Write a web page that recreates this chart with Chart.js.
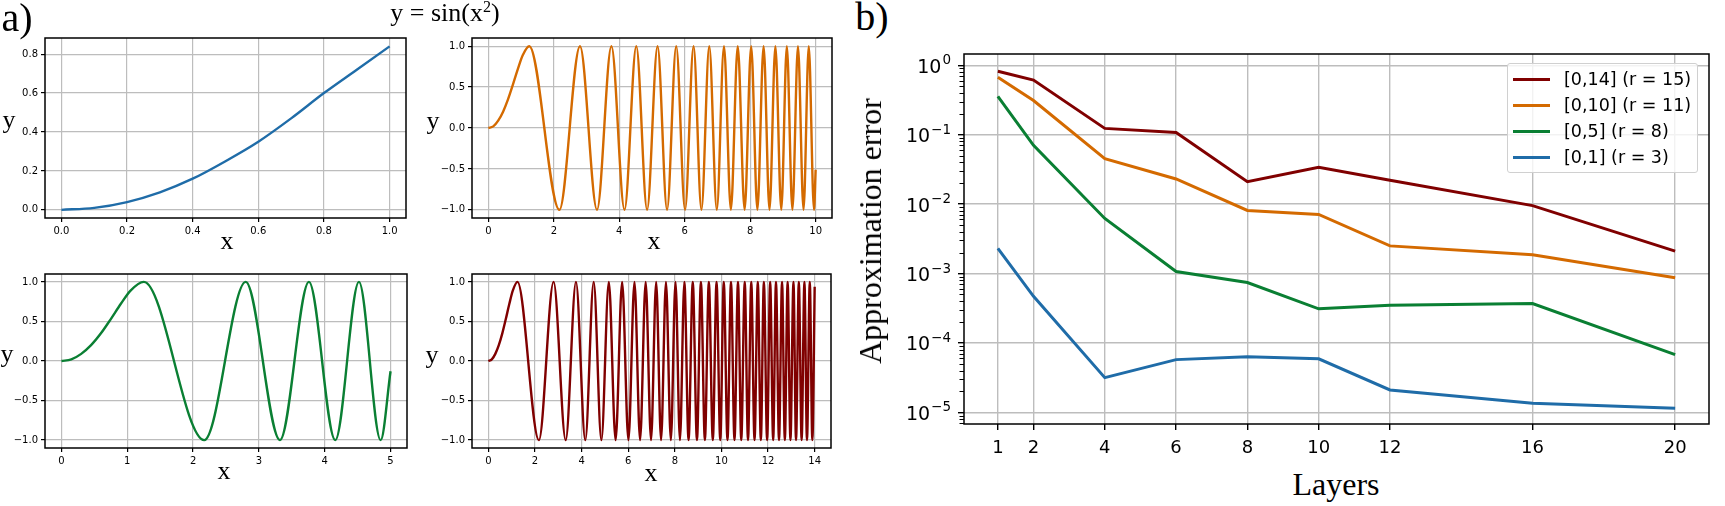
<!DOCTYPE html>
<html lang="en">
<head>
<meta charset="UTF-8">
<title>sin(x^2) and approximation error</title>
<script src="https://cdn.jsdelivr.net/npm/chart.js"></script>
<style>
  body { margin: 0; width: 1725px; height: 506px; background: #fff; position: relative; overflow: hidden; }
  .lbl { position: absolute; font-family: "Liberation Serif", serif; color: #000; line-height: 1; white-space: nowrap; }
  .lbl sup { font-size: 0.62em; vertical-align: 0.55em; line-height: 0; }
  .legend { position: absolute; left: 1507px; top: 63px; width: 191px; height: 110px; box-sizing: border-box;
            background: rgba(255,255,255,0.8); border: 1px solid #d0d0d0; border-radius: 3px; padding-top: 2px;
            font-family: "DejaVu Sans", sans-serif; font-size: 17.5px; }
  .legend .row { display: flex; align-items: center; height: 26px; }
  .legend .swatch { width: 37px; height: 3px; margin-left: 5px; margin-right: 14px; }
</style>
</head>
<body>

<script>
// ---- panel a): y = sin(x^2), knots ----
const rampX = [0, 0.15, 0.3, 0.45, 0.6, 0.75, 0.9, 1.05];
const rampY = [0, 0.02, 0.09, 0.2, 0.35, 0.53, 0.72, 0.89];

// the [0,1] curve
const unitX = [0, 0.1, 0.2, 0.3, 0.4, 0.5, 0.6, 0.7, 0.8, 0.9, 1.0];
const unitY = [0, 0.01, 0.04, 0.09, 0.16, 0.25, 0.35, 0.47, 0.6, 0.72, 0.84];

// turning points (peaks / troughs) of the oscillating curves
const turnX = [1.25, 2.17, 2.80, 3.32, 3.76, 4.16, 4.52, 4.85, 5.17, 5.46,
               5.74, 6.01, 6.27, 6.51, 6.75, 6.98, 7.20, 7.41, 7.62, 7.83,
               8.03, 8.22, 8.41, 8.59, 8.77, 8.95, 9.12, 9.29, 9.46, 9.63,
               9.79, 9.95, 10.10, 10.26, 10.41, 10.56, 10.71, 10.85, 11.00, 11.14,
               11.28, 11.42, 11.56, 11.69, 11.82, 11.96, 12.09, 12.22, 12.34, 12.47,
               12.60, 12.72, 12.84, 12.96, 13.09, 13.20, 13.32, 13.44, 13.56, 13.67,
               13.79, 13.90];
const turnY = [1, -1, 1, -1, 1, -1, 1, -1, 1, -1,
               1, -1, 1, -1, 1, -1, 1, -1, 1, -1,
               1, -1, 1, -1, 1, -1, 1, -1, 1, -1,
               1, -1, 1, -1, 1, -1, 1, -1, 1, -1,
               1, -1, 1, -1, 1, -1, 1, -1, 1, -1,
               1, -1, 1, -1, 1, -1, 1, -1, 1, -1,
               1, -1];
// where each curve stops and its last value
const sweepEnds = [5, 10, 14];
const sweepEndY = [-0.13, -0.51, 0.94];

const unitTicksX = [0, 0.2, 0.4, 0.6, 0.8, 1.0];
const unitTicksY = [0, 0.2, 0.4, 0.6, 0.8];
const waveTicksY = [-1, -0.5, 0, 0.5, 1];
const ticks5X = [0, 1, 2, 3, 4, 5];
const ticks10X = [0, 2, 4, 6, 8, 10];
const ticks14X = [0, 2, 4, 6, 8, 10, 12, 14];

// ---- panel b): approximation error vs layers ----
const layers = [1, 2, 4, 6, 8, 10, 12, 16, 20];
const err14 = [0.82, 0.61, 0.123, 0.107, 0.021, 0.034, 0.022, 0.0095, 0.0021];
const err10 = [0.67, 0.31, 0.045, 0.023, 0.0081, 0.0071, 0.0025, 0.00186, 0.00087];
const err5  = [0.355, 0.07, 0.0062, 0.00107, 0.00074, 0.00031, 0.00035, 0.00037, 0.000068];
const err1  = [0.0023, 0.00047, 0.0000316, 0.0000575, 0.000063, 0.000059, 0.000021, 0.0000135, 0.0000115];
const seriesNames = ['[0,14] (r = 15)', '[0,10] (r = 11)', '[0,5] (r = 8)', '[0,1] (r = 3)'];
const errTickValues = [1, 0.1, 0.01, 0.001, 0.0001, 0.00001];
const errTickExps = ['0', '\u22121', '\u22122', '\u22123', '\u22124', '\u22125'];

const RED = '#800000', ORANGE = '#d46a00', GREEN = '#0a7f33', BLUE = '#1f6ca8';
const GRID = '#bdbdbd';

function pts(xs, ys) {
  return xs.map((x, i) => ({ x: x, y: ys[i] }));
}

function sweep(n) {
  const lim = sweepEnds[n];
  const xs = rampX.slice(), ys = rampY.slice();
  turnX.forEach((x, i) => { if (x < lim) { xs.push(x); ys.push(turnY[i]); } });
  xs.push(lim); ys.push(sweepEndY[n]);
  return pts(xs, ys);
}

const fmt1 = v => v.toFixed(1).replace('-', '\u2212');
const fmtInt = v => String(v);

// black box around the plotting area; on the log chart also minor ticks and 10^n labels
const framePlugin = {
  id: 'frame',
  afterDatasetsDraw(chart) {
    const a = chart.chartArea, c = chart.ctx;
    c.save();
    c.strokeStyle = '#000';
    c.lineWidth = 1.5;
    c.strokeRect(a.left, a.top, a.right - a.left, a.bottom - a.top);
    const ys = chart.scales.y;
    if (ys.type === 'logarithmic') {
      c.lineWidth = 1;
      for (let e = -6; e <= 0; e++) {
        for (let m = 2; m <= 9; m++) {
          const v = m * Math.pow(10, e);
          if (v < ys.min || v > ys.max) continue;
          const py = Math.round(ys.getPixelForValue(v)) + 0.5;
          c.beginPath();
          c.moveTo(a.left - 4.5, py);
          c.lineTo(a.left, py);
          c.stroke();
        }
      }
      // tick labels like 10^-3 with a real superscript
      c.fillStyle = '#000';
      c.textAlign = 'right';
      c.textBaseline = 'alphabetic';
      const xr = a.left - 13;
      errTickValues.forEach((v, i) => {
        const py = ys.getPixelForValue(v);
        c.font = '13.5px "DejaVu Sans"';
        const ew = c.measureText(errTickExps[i]).width;
        c.fillText(errTickExps[i], xr, py - 1);
        c.font = '19px "DejaVu Sans"';
        c.fillText('10', xr - ew - 1, py + 7.5);
      });
    }
    c.restore();
  }
};

function addChart(frame, yw, xh, datasets, xs, ys) {
  const padT = 14, padR = 14;
  const div = document.createElement('div');
  div.style.position = 'absolute';
  div.style.left = (frame.l - yw) + 'px';
  div.style.top = (frame.t - padT) + 'px';
  div.style.width = (frame.r - frame.l + yw + padR) + 'px';
  div.style.height = (frame.b - frame.t + xh + padT) + 'px';
  const cv = document.createElement('canvas');
  div.appendChild(cv);
  document.body.appendChild(div);
  xs.afterFit = s => { s.height = xh; };
  ys.afterFit = s => { s.width = yw; };
  return new Chart(cv, {
    type: 'line',
    data: { datasets: datasets },
    options: {
      responsive: true,
      maintainAspectRatio: false,
      animation: false,
      devicePixelRatio: 1,
      layout: { padding: { top: padT, right: padR, left: 0, bottom: 0 } },
      plugins: { legend: { display: false }, tooltip: { enabled: false } },
      elements: { point: { radius: 0 } },
      scales: { x: xs, y: ys }
    },
    plugins: [framePlugin]
  });
}

function smallAxis(min, max, ticks, fmt) {
  return {
    type: 'linear', min: min, max: max,
    afterBuildTicks: s => { s.ticks = ticks.map(v => ({ value: v })); },
    border: { display: false },
    grid: { color: GRID, lineWidth: 1.2, tickColor: '#000', tickLength: 4, tickWidth: 1.2 },
    ticks: { font: { family: 'DejaVu Sans', size: 10 }, color: '#000', padding: 3,
             maxRotation: 0, autoSkip: false, callback: v => fmt(v) }
  };
}

function wave(data, color) {
  return { data: data, borderColor: color, borderWidth: 2.4, cubicInterpolationMode: 'monotone', fill: false };
}

// top-left: [0,1]
addChart({ l: 45, t: 38, r: 406, b: 218 }, 36, 22,
  [wave(pts(unitX, unitY), BLUE)],
  smallAxis(-0.05, 1.05, unitTicksX, fmt1), smallAxis(-0.042, 0.883, unitTicksY, fmt1));
// top-right: [0,10]
addChart({ l: 472, t: 38, r: 832, b: 218 }, 36, 22,
  [wave(sweep(1), ORANGE)],
  smallAxis(-0.5, 10.5, ticks10X, fmtInt), smallAxis(-1.1, 1.1, waveTicksY, fmt1));
// bottom-left: [0,5]
addChart({ l: 45, t: 274, r: 407, b: 448 }, 36, 22,
  [wave(sweep(0), GREEN)],
  smallAxis(-0.25, 5.25, ticks5X, fmtInt), smallAxis(-1.1, 1.1, waveTicksY, fmt1));
// bottom-right: [0,14]
addChart({ l: 472, t: 274, r: 831, b: 448 }, 36, 22,
  [wave(sweep(2), RED)],
  smallAxis(-0.7, 14.7, ticks14X, fmtInt), smallAxis(-1.1, 1.1, waveTicksY, fmt1));

// panel b)
const errSeries = [err14, err10, err5, err1];
const errColors = [RED, ORANGE, GREEN, BLUE];
addChart({ l: 964, t: 54, r: 1709, b: 424 }, 80, 40,
  errSeries.map((s, i) => ({ label: seriesNames[i], data: pts(layers, s), borderColor: errColors[i],
                             borderWidth: 3, tension: 0, fill: false })),
  {
    type: 'linear', min: 0.05, max: 20.95,
    afterBuildTicks: s => { s.ticks = layers.map(v => ({ value: v })); },
    border: { display: false },
    grid: { color: GRID, lineWidth: 1.4, tickColor: '#000', tickLength: 6, tickWidth: 1.4 },
    ticks: { font: { family: 'DejaVu Sans', size: 18 }, color: '#000', padding: 8,
             maxRotation: 0, autoSkip: false, callback: v => String(v) }
  },
  {
    type: 'logarithmic', min: 6.8e-6, max: 1.45,
    afterBuildTicks: s => { s.ticks = errTickValues.map(v => ({ value: v })); },
    border: { display: false },
    grid: { color: GRID, lineWidth: 1.4, tickColor: '#000', tickLength: 6, tickWidth: 1.4 },
    ticks: { display: false }
  });

// legend for panel b)
const legend = document.createElement('div');
legend.className = 'legend';
seriesNames.forEach((name, i) => {
  const row = document.createElement('div');
  row.className = 'row';
  row.innerHTML = '<span class="swatch" style="background:' + errColors[i] + '"></span><span>' + name + '</span>';
  legend.appendChild(row);
});
document.body.appendChild(legend);

// text labels
function addLabel(html, cx, base, size, rotate) {
  const d = document.createElement('div');
  d.className = 'lbl';
  d.innerHTML = html;
  d.style.fontSize = size + 'px';
  d.style.left = cx + 'px';
  if (rotate) {
    d.style.top = base + 'px';
    d.style.transform = 'translate(-50%, -50%) rotate(-90deg)';
  } else {
    d.style.top = (base - 0.8375 * size) + 'px';
    d.style.transform = 'translateX(-50%)';
  }
  document.body.appendChild(d);
}

addLabel('a)', 17, 31, 40);
addLabel('b)', 872, 30, 40);
addLabel('y = sin(x<sup>2</sup>)', 445, 22, 26);
addLabel('x', 227, 250, 26);
addLabel('x', 654, 250, 26);
addLabel('x', 224, 480, 26);
addLabel('x', 651, 482, 26);
addLabel('y', 9, 129, 26);
addLabel('y', 433, 130, 26);
addLabel('y', 7, 363, 26);
addLabel('y', 432, 364, 26);
addLabel('Layers', 1336, 495, 32);
addLabel('Approximation error', 870, 231, 32, true);
</script>
</body>
</html>
